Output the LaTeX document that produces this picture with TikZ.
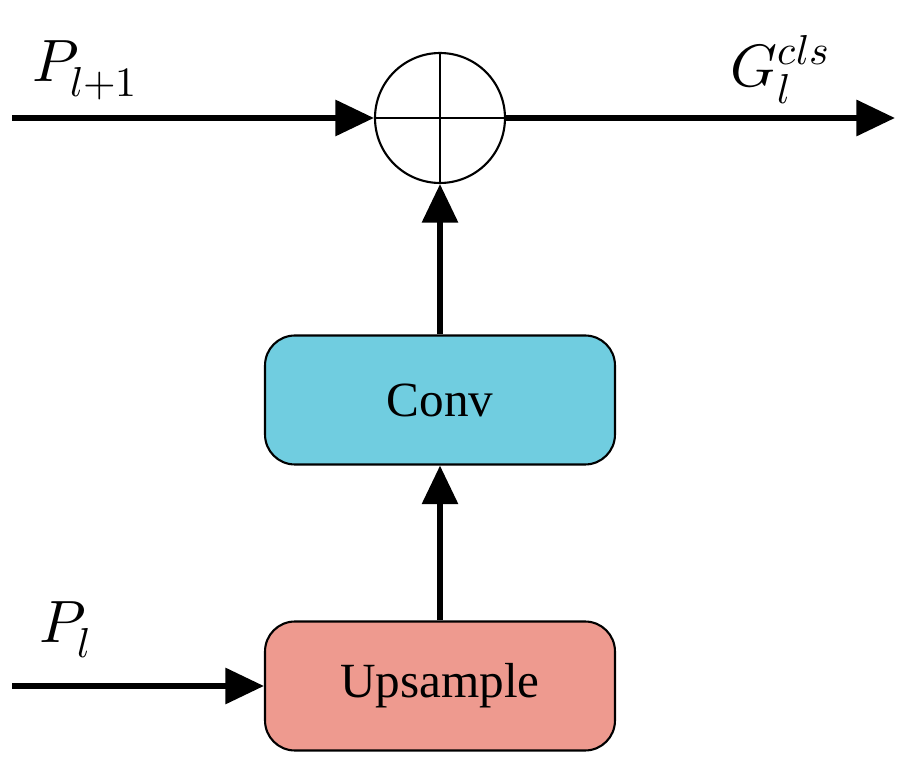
\documentclass[tikz,border=0pt]{standalone}
\usepackage{fontspec}
\setmainfont{Liberation Serif}
\usepackage{unicode-math}
\setmathfont{Latin Modern Math}
\usetikzlibrary{arrows.meta}
\begin{document}
\begin{tikzpicture}[x=0.02cm,y=-0.02cm,
  box/.style={draw=black,line width=1.2pt,rounded corners=17pt,minimum width=7cm,minimum height=2.58cm,font=\fontsize{28}{30}\selectfont},
  arr/.style={line width=3.4pt,-{Triangle[length=22pt,width=20pt]}},
  lab/.style={font=\fontsize{34}{36}\selectfont}]
\useasboundingbox (0,0) rectangle (907,773);
\definecolor{convc}{HTML}{70CDE0}
\definecolor{upc}{HTML}{EE9A8F}
\node[circle,draw=black,line width=1.2pt,minimum size=2.6cm,inner sep=0pt] (sum) at (440,118) {};
\draw[line width=1.2pt] (sum.north)--(sum.south) (sum.west)--(sum.east);
\node[box,fill=convc] (conv) at (440,400) {Conv};
\node[box,fill=upc] (up) at (440,686) {Upsample};
\coordinate (in1) at (12,118);
\coordinate (out) at (895,118);
\coordinate (in2) at (12,686);
\draw[arr] (in1) -- (sum.west);
\draw[arr] (sum.east) -- (out);
\draw[arr] (conv.north) -- (sum.south);
\draw[arr] (up.north) -- (conv.south);
\draw[arr] (in2) -- (up.west);
\node[lab] (p1) at (85,70) {$P_{l+1}$};
\node[lab] (g) at (780,70) {$G_l^{cls}$};
\node[lab] (p0) at (65,630) {$P_l$};
\end{tikzpicture}
\end{document}
